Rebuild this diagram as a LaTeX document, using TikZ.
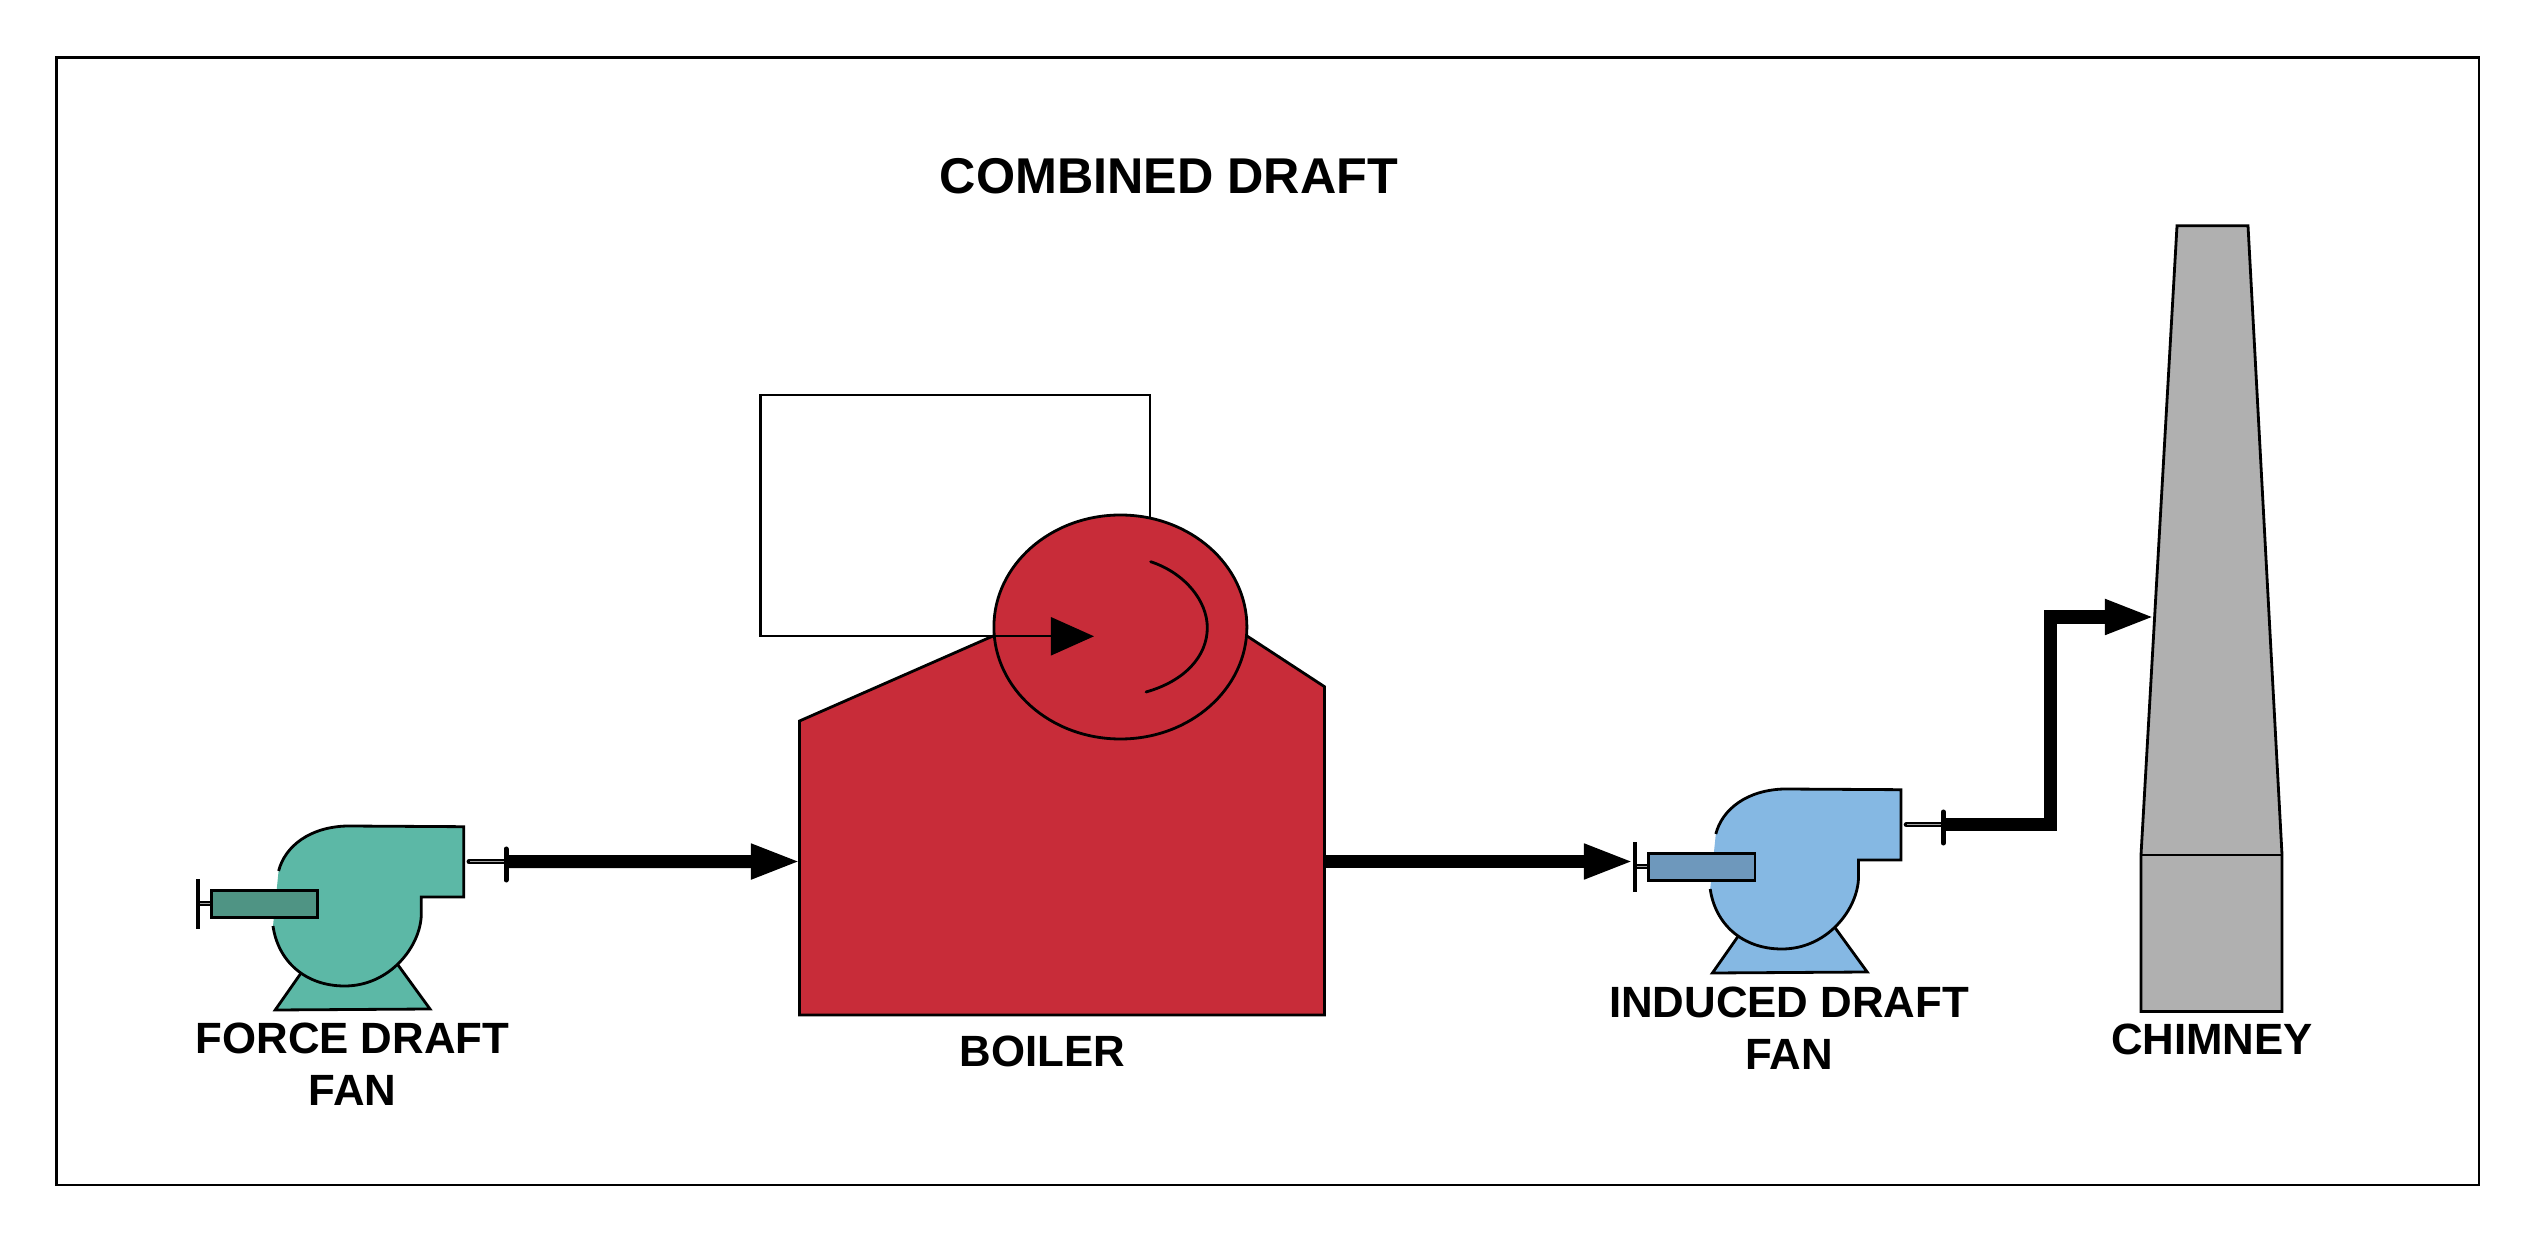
\documentclass[tikz,border=0pt]{standalone}
\usepackage{fontspec}
\setmainfont{Liberation Sans}
\usetikzlibrary{arrows.meta}
\definecolor{tealfan}{HTML}{5CB8A6}
\definecolor{tealin}{HTML}{4F9484}
\definecolor{bluefan}{HTML}{85B8E3}
\definecolor{bluein}{HTML}{6E98BC}
\definecolor{boilerred}{HTML}{C82C39}
\definecolor{chimgray}{HTML}{B0B0B0}
\tikzset{
  outline/.style={draw=black,line width=0.028cm,line join=miter},
  thinline/.style={draw=black,line width=0.022cm},
  label/.style={font=\fontsize{12.45}{14.9}\selectfont\bfseries,align=center,inner sep=0pt,text=black},
  flow/.style={draw=black,line width=0.13cm,line join=miter,
    -{Triangle[length=5mm,width=3.2mm]}},
  smallflow/.style={draw=black,line width=0.02cm,-{Triangle[length=4.3mm,width=3.8mm]}},
  fan/.pic={
    % base
    \path[outline,fill=\fanbody] (301.3,971.7) -- (275.2,1009) -- (430,1008) -- (397.3,963);
    % body fill
    \fill[\fanbody] (278.6,870) .. controls (285,845) and (310,826) .. (346.8,825)
      -- (463.8,825.7) -- (463.8,896) -- (421.3,896) -- (421.3,913)
      .. controls (421,945) and (390,985) .. (344.7,985)
      .. controls (305,985) and (278,960) .. (273,925) -- cycle;
    % body stroke, open on the inlet side
    \draw[outline] (278.6,870) .. controls (285,845) and (310,826) .. (346.8,825)
      -- (463.8,825.7) -- (463.8,896) -- (421.3,896) -- (421.3,913)
      .. controls (421,945) and (390,985) .. (344.7,985)
      .. controls (305,985) and (278,960) .. (273,925);
    % inlet
    \draw[black,line width=0.045cm] (198.2,902.7) -- (211.2,902.7);
    \draw[gray!70,line width=0.012cm] (199.5,902.7) -- (211.2,902.7);
    \draw[black,line width=0.04cm] (198.2,878) -- (198.2,928);
    \path[outline,fill=\fanin] (211.2,889.7) rectangle (317.7,916.7);
    % outlet stem
    \draw[black,line width=0.05cm,line cap=round] (469,860.7) -- (506,860.7);
    \draw[gray!70,line width=0.015cm] (470,860.7) -- (505,860.7);
    \draw[black,line width=0.05cm,line cap=round] (506,848) -- (506,879);
    \coordinate (-out) at (506,860.7);
  }
}
\begin{document}
\begin{tikzpicture}[x=0.01cm,y=-0.01cm]
\useasboundingbox (0,0) rectangle (2536,1240);
\fill[white] (0,0) rectangle (2536,1240);
\begin{scope}[shift={(0,1)}]
% frame
\draw[outline,line width=0.025cm] (56.6,56.6) rectangle (2479,1184);

% named ends of the connectors
\coordinate (boilerin)   at (801,860.5);
\coordinate (boilerout)  at (1324.5,860.5);
\coordinate (idfanin)    at (1634,860.5);
\coordinate (chimin)     at (2155,616);
\coordinate (loopstart)  at (993,635.3);
\coordinate (loopend)    at (1094,635.3);

% fans
\def\fanbody{tealfan}\def\fanin{tealin}
\pic (fd) at (0,0) {fan};
\def\fanbody{bluefan}\def\fanin{bluein}
\pic (id) at (1437.2,-37) {fan};

% boiler
\path[outline,fill=boilerred] (799.5,720) -- (993,635) -- (1247,635) -- (1324.5,685.7)
  -- (1324.5,1014) -- (799.5,1014) -- cycle;
\draw[thinline] (1149.8,516) -- (1149.8,394) -- (760.4,394) -- (760.4,635.3) -- (loopstart);
\path[outline,fill=boilerred] (1120.4,626) ellipse [x radius=126.5,y radius=112];
\draw[outline,line cap=round] (1150.6,560.7) .. controls (1185,572) and (1207.3,600) .. (1207.3,626.7)
  .. controls (1207.3,655) and (1185,680) .. (1146,691);
\draw[smallflow] (loopstart) -- (loopend);

% chimney
\path[outline,fill=chimgray] (2177,224.7) -- (2248,224.7) -- (2282,853.8) -- (2282,1010.4)
  -- (2141,1010.4) -- (2141,853.8) -- cycle;
\draw[thinline] (2141,853.8) -- (2282,853.8);

% flows
\draw[flow] (fd-out) -- (boilerin);
\draw[flow] (boilerout) -- (idfanin);
\draw[flow] (id-out) -- (2050,823.7) -- (2050,616) -- (chimin);

% labels
\node[label,font=\fontsize{14.3}{17}\selectfont\bfseries] (title) at (1169,175.5) {COMBINED DRAFT};
\node[label] (fdlabel) at (352.5,1063) {FORCE DRAFT\\FAN};
\node[label] (boilerlabel) at (1042.5,1050) {BOILER};
\node[label] (idlabel) at (1789,1027) {INDUCED DRAFT\\FAN};
\node[label] (chimlabel) at (2212,1038) {CHIMNEY};
\end{scope}
\end{tikzpicture}
\end{document}
